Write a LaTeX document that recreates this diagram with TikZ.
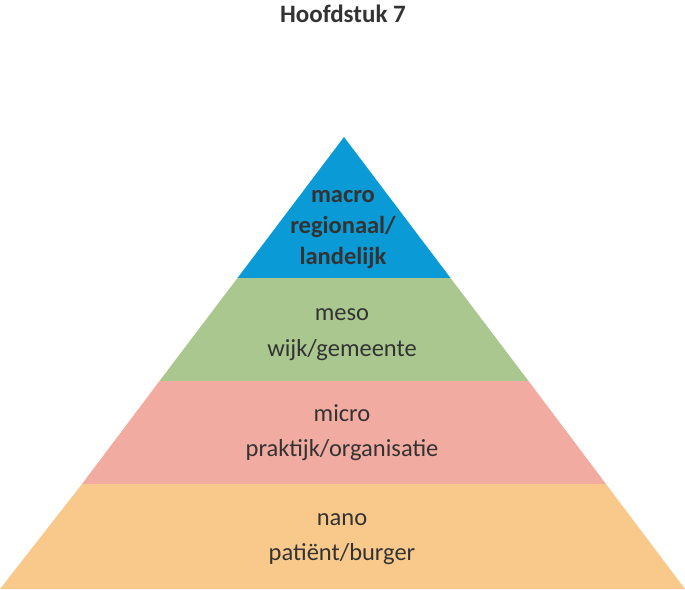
\documentclass[tikz,border=0pt]{standalone}
\usepackage{fontspec}
\setmainfont{Carlito}
\definecolor{bandblue}{HTML}{0A9AD5}
\definecolor{bandgreen}{HTML}{A9C78F}
\definecolor{bandpink}{HTML}{F2ABA1}
\definecolor{bandorange}{HTML}{F9C98B}
\definecolor{txt}{HTML}{333333}
\begin{document}
\begin{tikzpicture}[x=1pt,y=-1pt,
  lbl/.style={text=txt,font=\fontsize{24.5}{29}\selectfont,anchor=base,inner sep=0pt},
  lblb/.style={lbl,font=\fontsize{24.5}{29}\selectfont\bfseries}]
\useasboundingbox (0,0) rectangle (685,589);
% bands
\fill[bandblue] (344,137) -- (450.5,278) -- (237.5,278) -- cycle;
\fill[bandgreen] (237.5,278) -- (450.5,278) -- (528.5,381) -- (159.5,381) -- cycle;
\fill[bandpink] (159.5,381) -- (528.5,381) -- (606,484) -- (82,484) -- cycle;
\fill[bandorange] (82,484) -- (606,484) -- (685,589) -- (0,589) -- cycle;
% texts
\node[lblb,font=\fontsize{25}{30}\selectfont\bfseries] (title) at (343,22) {Hoofdstuk 7};
\node[lblb] (mac1) at (343,202) {macro};
\node[lblb] (mac2) at (343,233) {regionaal/};
\node[lblb] (mac3) at (343,264) {landelijk};
\node[lbl] (mes1) at (342,320) {meso};
\node[lbl] (mes2) at (342,356) {wijk/gemeente};
\node[lbl] (mic1) at (342,421) {micro};
\node[lbl] (mic2) at (342,456) {praktijk/organisatie};
\node[lbl] (nan1) at (342,525) {nano};
\node[lbl] (nan2) at (342,560) {patiënt/burger};
\end{tikzpicture}
\end{document}
